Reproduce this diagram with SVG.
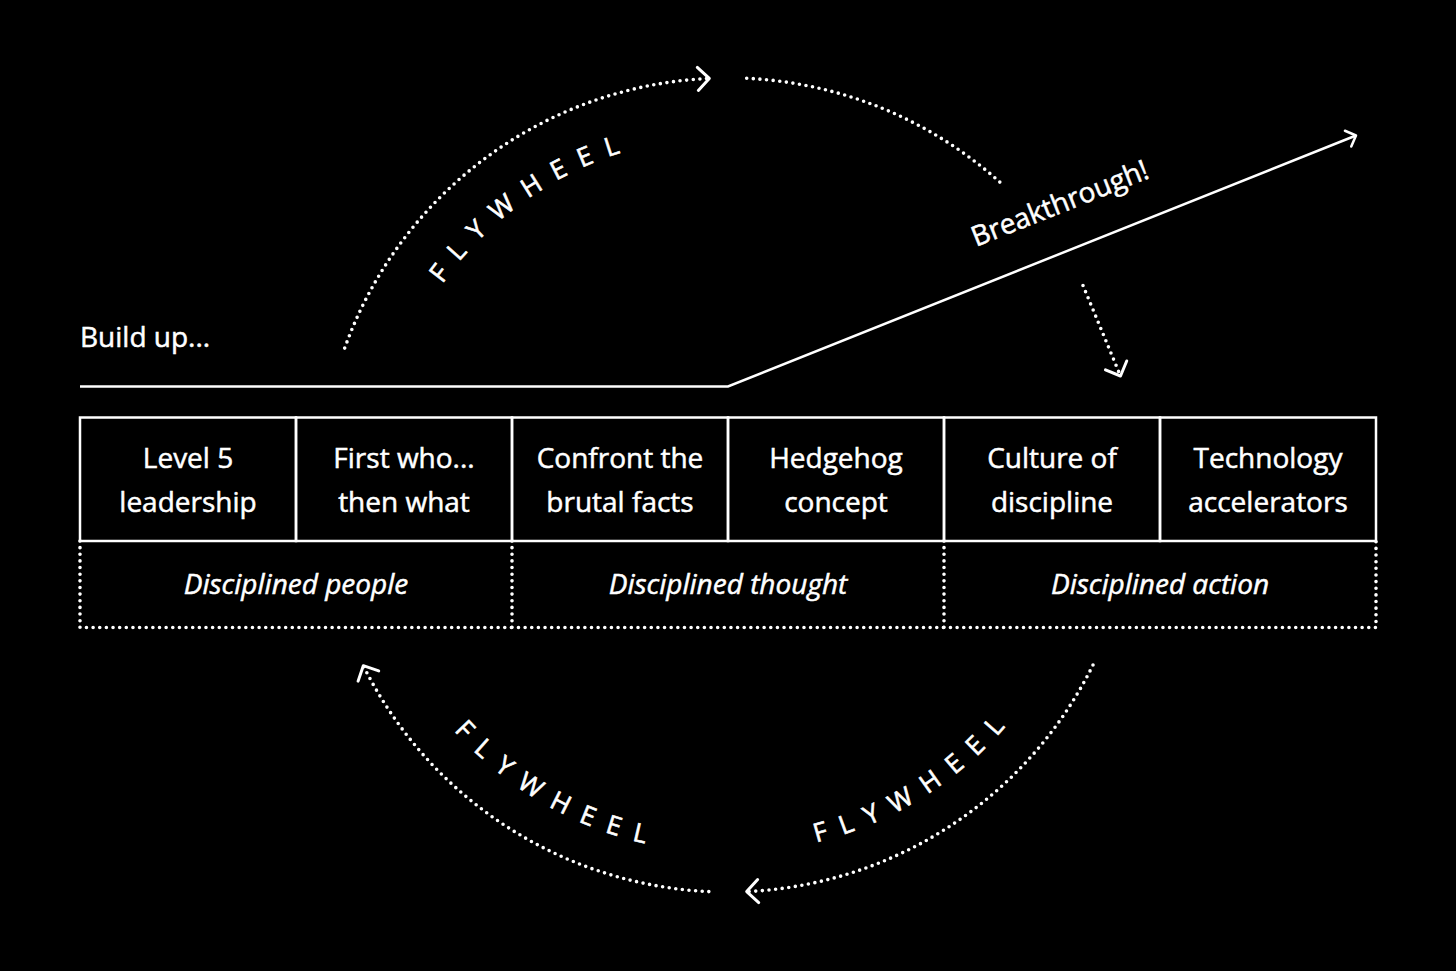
<svg xmlns="http://www.w3.org/2000/svg" width="1456" height="971" viewBox="0 0 1456 971">
<defs>
<style>
.bg{fill:#000}
.cell{fill:none;stroke:#fff;stroke-width:2.5}
.solid{fill:none;stroke:#fff;stroke-width:2.5}
.dots{fill:none;stroke:#fff;stroke-width:3.6;stroke-linecap:round;stroke-dasharray:0 6.64}
.chev{fill:none;stroke:#fff;stroke-width:3;stroke-linecap:round;stroke-linejoin:round}
.t,.ti,.lbl,.fw{font-family:"Open Sans","Noto Sans","Liberation Sans",sans-serif;fill:#fff;stroke:#fff;stroke-width:0.5}
.t{font-size:28px;text-anchor:middle}
.ti{font-size:28px;font-style:italic;text-anchor:middle}
.lbl{font-size:28px}
.fw{font-size:26px;letter-spacing:14px;stroke-width:0.6}
</style>
<marker id="chev" markerUnits="userSpaceOnUse" markerWidth="40" markerHeight="40" refX="0" refY="0" viewBox="-20 -20 40 40" orient="auto" overflow="visible">
<path class="chev" d="M-11.5 -11.5 L0 0 L-11.5 11.5"/>
</marker>
<marker id="chevs" markerUnits="userSpaceOnUse" markerWidth="30" markerHeight="30" refX="0" refY="0" viewBox="-15 -15 30 30" orient="auto" overflow="visible">
<path class="chev" d="M-8.5 -8.5 L0 0 L-8.5 8.5" style="stroke-width:2.5"/>
</marker>
<path id="fwTop" d="M387 409.4 A349 349 0 0 1 746.3 136.5"/>
<path id="fwBL" d="M379 601.8 A368 368 0 0 0 782.4 849"/>
<path id="fwBR" d="M677.4 849.5 A368 368 0 0 0 1078.2 598.1"/>
</defs>
<rect class="bg" x="0" y="0" width="1456" height="971"/>

<g id="connectors">
<path id="buildup-line" class="solid" d="M80 386.5 H728 L1356 135.5" marker-end="url(#chevs)"/>
<path id="arc-top-left" class="dots" d="M344.7 348.1 A407 407 0 0 1 709.3 78.4" marker-end="url(#chev)"/>
<path id="arc-top-right" class="dots" d="M746.7 78.3 A407 407 0 0 1 1001.9 184"/>
<path id="arc-bottom-right" class="dots" d="M1093 665 A407 407 0 0 1 746.7 891.6" marker-end="url(#chev)"/>
<path id="arc-bottom-left" class="dots" d="M708.8 891.6 A407 407 0 0 1 363.3 665.7" marker-end="url(#chev)"/>
<path id="drop-arrow" class="dots" d="M1083 285.5 L1120.5 376" marker-end="url(#chev)"/>
</g>

<g id="labels">
<text id="build-up" class="lbl" x="80" y="347">Build up...</text>
<text id="breakthrough" class="lbl" x="976" y="247" transform="rotate(-21.7 976 247)">Breakthrough!</text>
<text id="fw-top" class="fw"><textPath href="#fwTop" startOffset="52.5%" text-anchor="middle">FLYWHEEL</textPath></text>
<text id="fw-bl" class="fw"><textPath href="#fwBL" startOffset="52.5%" text-anchor="middle">FLYWHEEL</textPath></text>
<text id="fw-br" class="fw"><textPath href="#fwBR" startOffset="50.5%" text-anchor="middle">FLYWHEEL</textPath></text>
</g>

<g id="level5">
<rect class="cell" x="80" y="417.5" width="216" height="123.5"/>
<text class="t" x="188" y="468">Level 5</text>
<text class="t" x="188" y="512">leadership</text>
</g>
<g id="first-who">
<rect class="cell" x="296" y="417.5" width="216" height="123.5"/>
<text class="t" x="404" y="468">First who...</text>
<text class="t" x="404" y="512">then what</text>
</g>
<g id="brutal-facts">
<rect class="cell" x="512" y="417.5" width="216" height="123.5"/>
<text class="t" x="620" y="468">Confront the</text>
<text class="t" x="620" y="512">brutal facts</text>
</g>
<g id="hedgehog">
<rect class="cell" x="728" y="417.5" width="216" height="123.5"/>
<text class="t" x="836" y="468">Hedgehog</text>
<text class="t" x="836" y="512">concept</text>
</g>
<g id="culture">
<rect class="cell" x="944" y="417.5" width="216" height="123.5"/>
<text class="t" x="1052" y="468">Culture of</text>
<text class="t" x="1052" y="512">discipline</text>
</g>
<g id="technology">
<rect class="cell" x="1160" y="417.5" width="216" height="123.5"/>
<text class="t" x="1268" y="468">Technology</text>
<text class="t" x="1268" y="512">accelerators</text>
</g>

<g id="disciplined-people">
<path class="dots" d="M80 541 V627.5 H512"/>
<text class="ti" x="296" y="594">Disciplined people</text>
</g>
<g id="disciplined-thought">
<path class="dots" d="M512 541 V627.5 H944"/>
<text class="ti" x="728" y="594">Disciplined thought</text>
</g>
<g id="disciplined-action">
<path class="dots" d="M944 541 V627.5 H1376 V541"/>
<text class="ti" x="1160" y="594">Disciplined action</text>
</g>
</svg>
